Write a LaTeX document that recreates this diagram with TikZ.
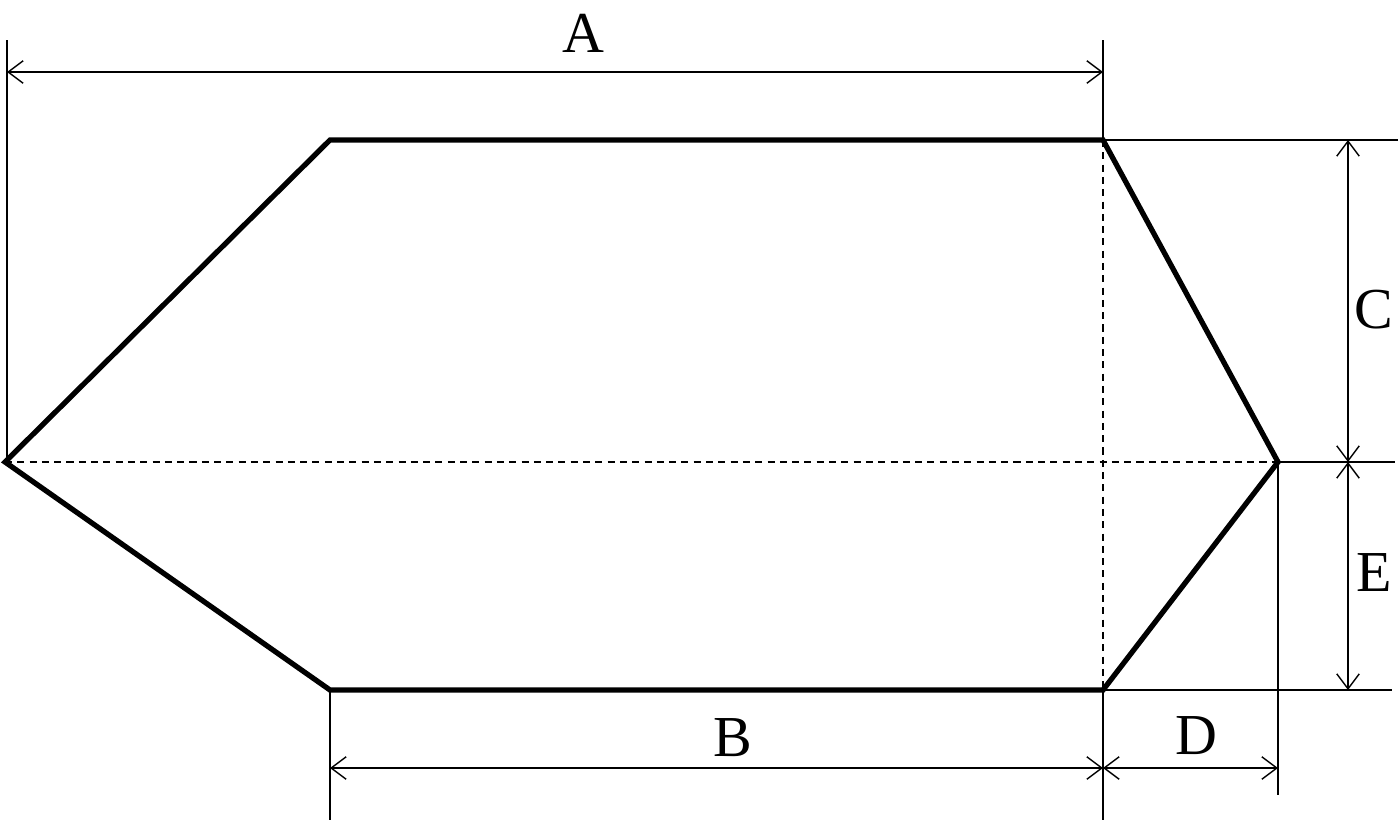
\documentclass[tikz,border=0pt]{standalone}
\usepackage{fontspec}
\setmainfont{Liberation Serif}
\usetikzlibrary{arrows.meta}
\begin{document}
\begin{tikzpicture}[x=0.02cm,y=-0.02cm,
  outline/.style={line width=3pt,line join=miter},
  hid/.style={line width=1.6pt,dash pattern=on 4pt off 3pt},
  ext/.style={line width=0.8pt},
  dim/.style={line width=0.8pt,{Straight Barb[length=3mm,width=4.5mm]}-{Straight Barb[length=3mm,width=4.5mm]}},
  lab/.style={font=\fontsize{33}{35}\selectfont,inner sep=0pt}]
\useasboundingbox (0,0) rectangle (1400,826);
\coordinate (L) at (5,462);
\coordinate (TL) at (330,140);
\coordinate (TR) at (1103,140);
\coordinate (R) at (1278,462);
\coordinate (BR) at (1103,690);
\coordinate (BL) at (330,690);
% hidden lines
\draw[hid] (L) -- (R);
\draw[hid] (TR) -- (BR);
% outline
\draw[outline] (L) -- (TL) -- (TR) -- (R) -- (BR) -- (BL) -- cycle;
% extension lines
\draw[ext] (7,40) -- (7,462);
\draw[ext] (1103,40) -- (TR);
\draw[ext] (TR) -- (1398,140);
\draw[ext] (R) -- (1395,462);
\draw[ext] (BR) -- (1392,690);
\draw[ext] (BL) -- (330,820);
\draw[ext] (BR) -- (1103,820);
\draw[ext] (R) -- (1278,795);
% dimensions
\coordinate (a1) at (7,72); \coordinate (a2) at (1103,72);
\coordinate (c1) at (1348,140); \coordinate (c2) at (1348,462); \coordinate (c3) at (1348,690);
\coordinate (b1) at (330,768); \coordinate (b2) at (1103,768); \coordinate (b3) at (1278,768);
\draw[dim] (a1) -- (a2);
\draw[dim] (c1) -- (c2);
\draw[dim] (c2) -- (c3);
\draw[dim] (b1) -- (b2);
\draw[dim] (b2) -- (b3);
\node[lab] (A) at (583,33) {A};
\node[lab] (B) at (733,738) {B};
\node[lab] (C) at (1374,310) {C};
\node[lab] (D) at (1196,736) {D};
\node[lab] (E) at (1374,573) {E};
\end{tikzpicture}
\end{document}
